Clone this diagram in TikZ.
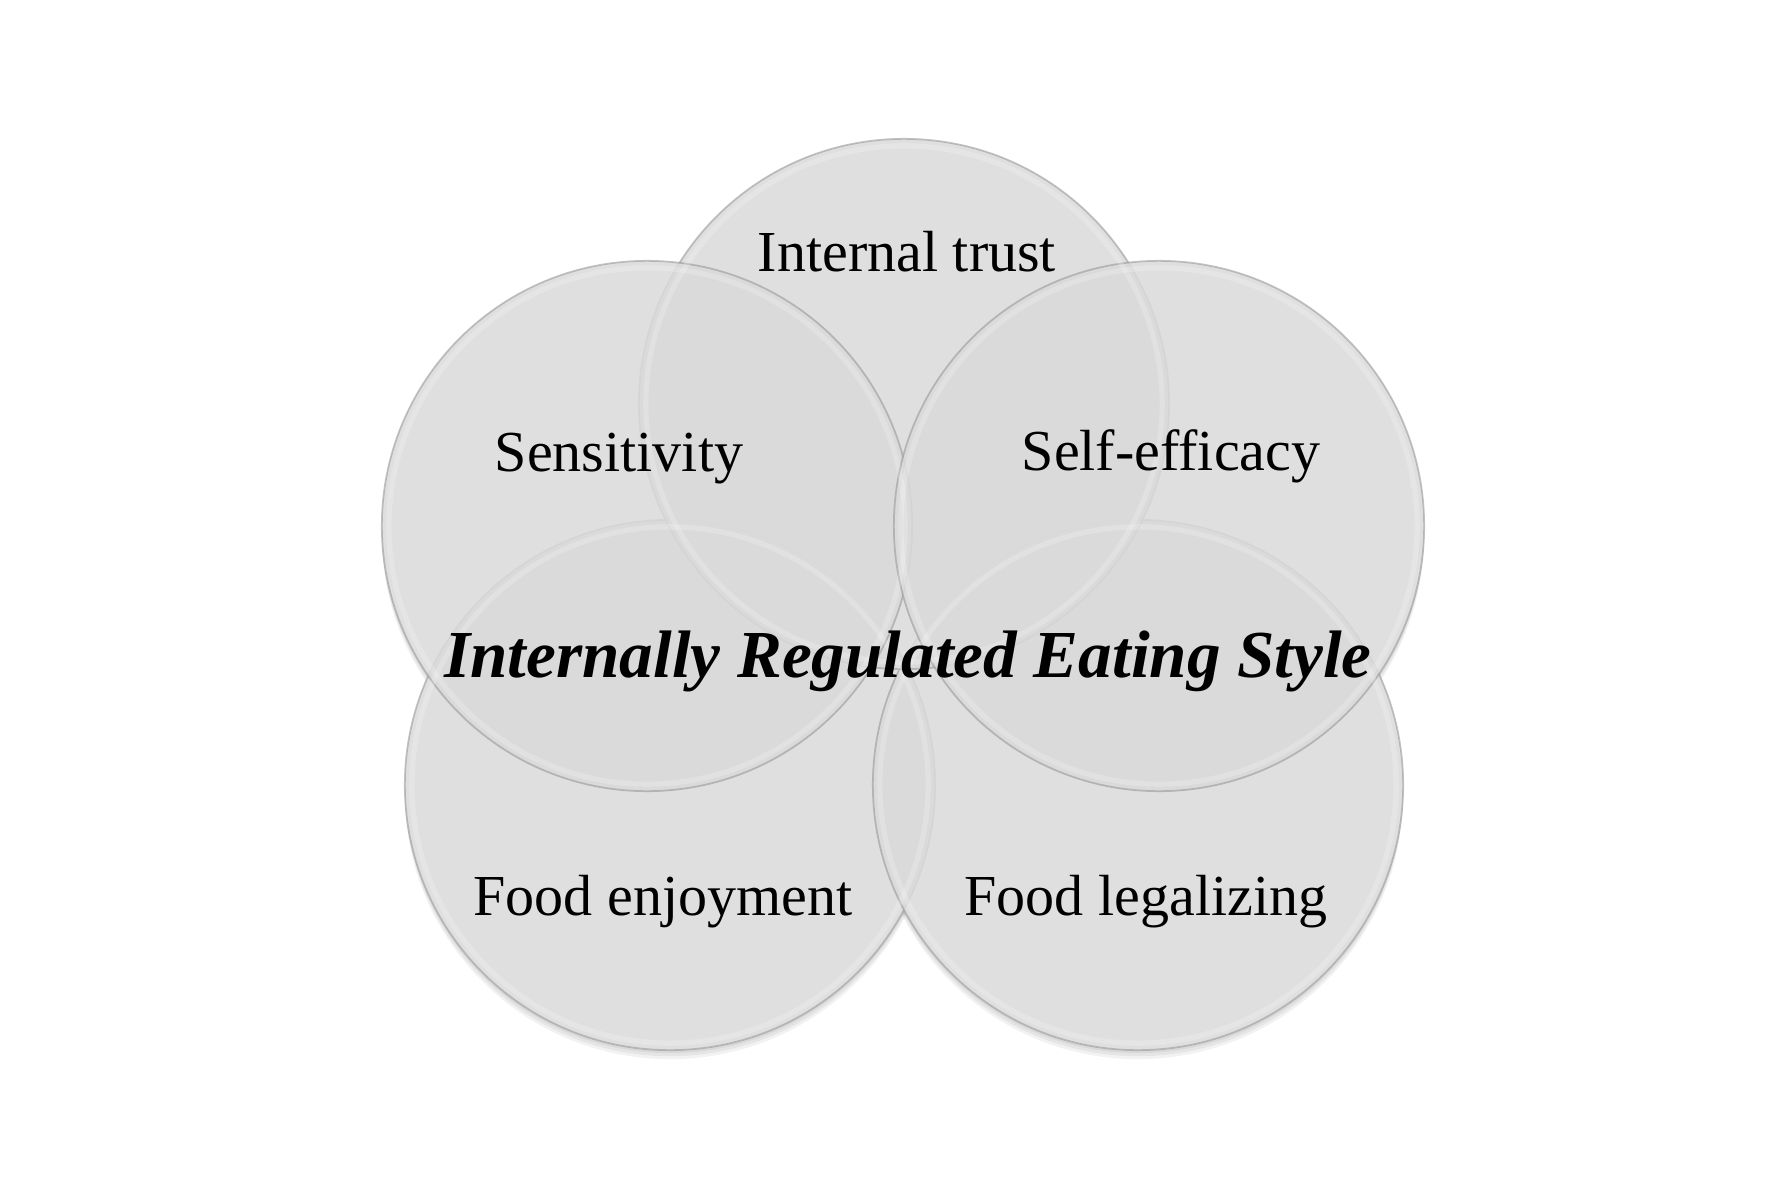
\documentclass[tikz,border=0pt]{standalone}
\usepackage{fontspec}
\setmainfont{Liberation Serif}
\begin{document}
\begin{tikzpicture}[x=0.01cm,y=-0.01cm,
  base/.style={circle, minimum size=5.3cm, inner sep=0pt, fill=white, draw=none},
  bubble/.style={circle, minimum size=5.3cm, inner sep=0pt, fill=gray!29, fill opacity=0.85,
     draw=gray!85, draw opacity=0.55, line width=0.5pt},
  shade/.style={circle, minimum size=5.3cm, inner sep=0pt, fill=black, fill opacity=0.05, draw=none},
  rim/.style={circle, minimum size=5.16cm, inner sep=0pt, draw=white, draw opacity=0.2, line width=1.5pt, fill=none},
  lab/.style={anchor=base, font=\fontsize{16.5}{19}\selectfont, text=black},
  mainlab/.style={anchor=base, font=\fontsize{19.1}{22}\selectfont\bfseries\itshape, text=black}]
\useasboundingbox (0,0) rectangle (1772,1181);
\fill[white] (0,0) rectangle (1772,1181);
% soft shadows (outside only)
\foreach \px/\py in {904/404,647/526,1159/526,670/785,1138/785}
  \foreach \d in {3,6,9}
    \node[shade] at (\px,\py+\d) {};
\foreach \px/\py in {904/404,647/526,1159/526,670/785,1138/785}
  \node[base] at (\px,\py) {};
% circles
\node[bubble] (c4) at (670,785) {};
\node[bubble] (c5) at (1138,785) {};
\node[bubble] (c1) at (904,404) {};
\node[bubble] (c2) at (647,526) {};
\node[bubble] (c3) at (1159,526) {};
\foreach \c in {c1,c2,c3,c4,c5}
  \node[rim] at (\c) {};
% labels
\node[lab] (t1) at (907,271) {Internal trust};
\node[lab] (t2) at (619,471) {Sensitivity};
\node[lab] (t3) at (1171,470) {Self-efficacy};
\node[lab] (t4) at (663,915) {Food enjoyment};
\node[lab] (t5) at (1146,915) {Food legalizing};
\node[mainlab] (m) at (908,677) {Internally Regulated Eating Style};
\end{tikzpicture}
\end{document}
